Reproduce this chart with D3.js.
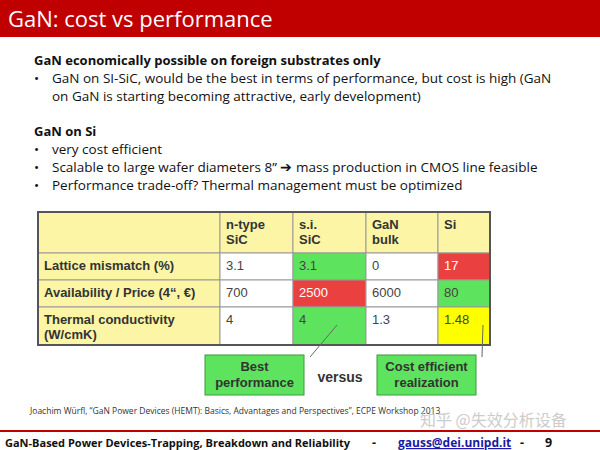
<!DOCTYPE html>
<html><head><meta charset="utf-8">
<script src="https://cdn.jsdelivr.net/npm/d3@7"></script>
<style>body{margin:0;background:#fff}svg{font-family:"Open Sans",Arial,sans-serif}</style>
</head><body>
<svg id="s" width="600" height="450"></svg>
<script>
const columns = ['', 'n-type|SiC', 's.i.|SiC', 'GaN|bulk', 'Si'];
const rowLabels = ['Lattice mismatch (%)', 'Availability / Price (4“, €)', 'Thermal conductivity|(W/cmK)'];
const lattice = ['3.1', '3.1', '0', '17'];
const price = ['700', '2500', '6000', '80'];
const thermal = ['4', '4', '1.3', '1.48'];
const cellColors = [
  ['#fff', '#5ee35e', '#fff', '#ea4040'],
  ['#fff', '#ea4040', '#fff', '#5ee35e'],
  ['#fff', '#5ee35e', '#fff', '#ffff00']
];
const bullets1 = ['GaN on SI-SiC, would be the best in terms of performance, but cost is high (GaN', 'on GaN is starting becoming attractive, early development)'];
const bullets2 = ['very cost efficient', 'Scalable to large wafer diameters 8” ➔ mass production in CMOS line feasible', 'Performance trade-off? Thermal management must be optimized'];

const svg = d3.select('#s');
svg.append('rect').attr('width', 600).attr('height', 37).attr('fill', '#c00000');
svg.append('text').attr('x', 8).attr('y', 27).attr('fill', '#fff').attr('font-size', 22).text('GaN: cost vs performance');

const body = svg.append('g').attr('font-size', 13.5).attr('fill', '#111');
body.append('text').attr('x', 34).attr('y', 65).attr('font-weight', 'bold').attr('font-size', 13).text('GaN economically possible on foreign substrates only');
body.selectAll('.b1').data(bullets1).join('text').attr('x', 52).attr('y', (d, i) => 83 + i * 18).text(d => d);
body.append('text').attr('x', 34).attr('y', 83).text('•');
body.append('text').attr('x', 34).attr('y', 136).attr('font-weight', 'bold').attr('font-size', 13).text('GaN on Si');
body.selectAll('.b2').data(bullets2).join('text').attr('x', 52).attr('y', (d, i) => 154 + i * 18).text(d => d);
body.selectAll('.d2').data(bullets2).join('text').attr('x', 34).attr('y', (d, i) => 154 + i * 18).text('•');

// table
const rows = [lattice, price, thermal];
const colX = d3.scaleOrdinal().domain(d3.range(5)).range([38, 220, 293, 366, 438]);
const colW = [182, 73, 73, 72, 52];
const rowY = d3.scaleOrdinal().domain(d3.range(4)).range([212, 253, 280, 307]);
const rowH = [41, 27, 27, 38];
const t = svg.append('g').attr('font-family', 'Liberation Sans, Arial, sans-serif');
const cells = [];
for (let r = 0; r < 4; r++) for (let c = 0; c < 5; c++) {
  let fill = '#fcf5a5', text = '', bold = true, color = '#333';
  if (r === 0) text = columns[c];
  else if (c === 0) text = rowLabels[r - 1];
  else { text = rows[r - 1][c - 1]; fill = cellColors[r - 1][c - 1]; bold = false; color = fill === '#ea4040' ? '#fff' : '#444'; }
  cells.push({r, c, fill, text, bold, color});
}
const g = t.selectAll('g.cell').data(cells).join('g').attr('transform', d => `translate(${colX(d.c)},${rowY(d.r)})`);
g.append('rect').attr('width', d => colW[d.c]).attr('height', d => rowH[d.r]).attr('fill', d => d.fill)
  .attr('stroke', '#999').attr('stroke-width', 1);
g.append('text').attr('x', 6).attr('font-size', 13).attr('font-weight', d => d.bold ? 'bold' : 'normal')
  .attr('fill', d => d.color)
  .selectAll('tspan').data(d => d.text.split('|')).join('tspan').attr('x', 6).attr('y', (d, i) => 17 + i * 15).text(d => d);
svg.append('rect').attr('x', 38).attr('y', 212).attr('width', 452).attr('height', 133).attr('fill', 'none').attr('stroke', '#555').attr('stroke-width', 2);

// callouts
const boxes = [{x: 205, lines: ['Best', 'performance']}, {x: 377, lines: ['Cost efficient', 'realization']}];
const bx = svg.append('g').attr('font-family', 'Liberation Sans, Arial, sans-serif');
const bg = bx.selectAll('g').data(boxes).join('g').attr('transform', d => `translate(${d.x},355)`);
bg.append('rect').attr('width', 99).attr('height', 40).attr('fill', '#5ee35e').attr('stroke', '#3a9a3a');
bg.append('text').attr('text-anchor', 'middle').attr('font-weight', 'bold').attr('font-size', 13).attr('fill', '#333')
  .selectAll('tspan').data(d => d.lines).join('tspan').attr('x', 49.5).attr('y', (d, i) => 16 + i * 16).text(d => d);
bx.append('text').attr('x', 340).attr('y', 382).attr('text-anchor', 'middle').attr('font-weight', 'bold').attr('font-size', 14).attr('fill', '#333').text('versus');
svg.append('line').attr('x1', 310).attr('y1', 357).attr('x2', 337).attr('y2', 325).attr('stroke', '#666');
svg.append('line').attr('x1', 482).attr('y1', 357).attr('x2', 483).attr('y2', 325).attr('stroke', '#666');

svg.append('text').attr('x', 30).attr('y', 414).attr('font-size', 8.5).attr('fill', '#333')
  .text('Joachim Würfl, “GaN Power Devices (HEMT): Basics, Advantages and Perspectives”, ECPE Workshop 2013');
svg.append('text').attr('x', 420).attr('y', 426).attr('font-size', 16).attr('fill', '#ccc').attr('font-family', 'Noto Sans CJK SC')
  .text('知乎 @失效分析设备');
svg.append('line').attr('x1', 0).attr('x2', 600).attr('y1', 431).attr('y2', 431).attr('stroke', '#c00000').attr('stroke-width', 2);
const f = svg.append('g').attr('font-size', 11).attr('font-weight', 'bold').attr('fill', '#111');
f.append('text').attr('x', 5).attr('y', 447).text('GaN-Based Power Devices-Trapping, Breakdown and Reliability');
f.append('text').attr('x', 372).attr('y', 447).attr('font-size', 12.5).text('-');
f.append('text').attr('x', 398).attr('y', 447).attr('fill', '#1a1aa6').attr('text-decoration', 'underline').attr('font-size', 12).text('gauss@dei.unipd.it');
f.append('text').attr('x', 520).attr('y', 447).attr('font-size', 12.5).text('-');
f.append('text').attr('x', 545).attr('y', 447).attr('font-size', 12.5).text('9');
</script>
</body></html>
